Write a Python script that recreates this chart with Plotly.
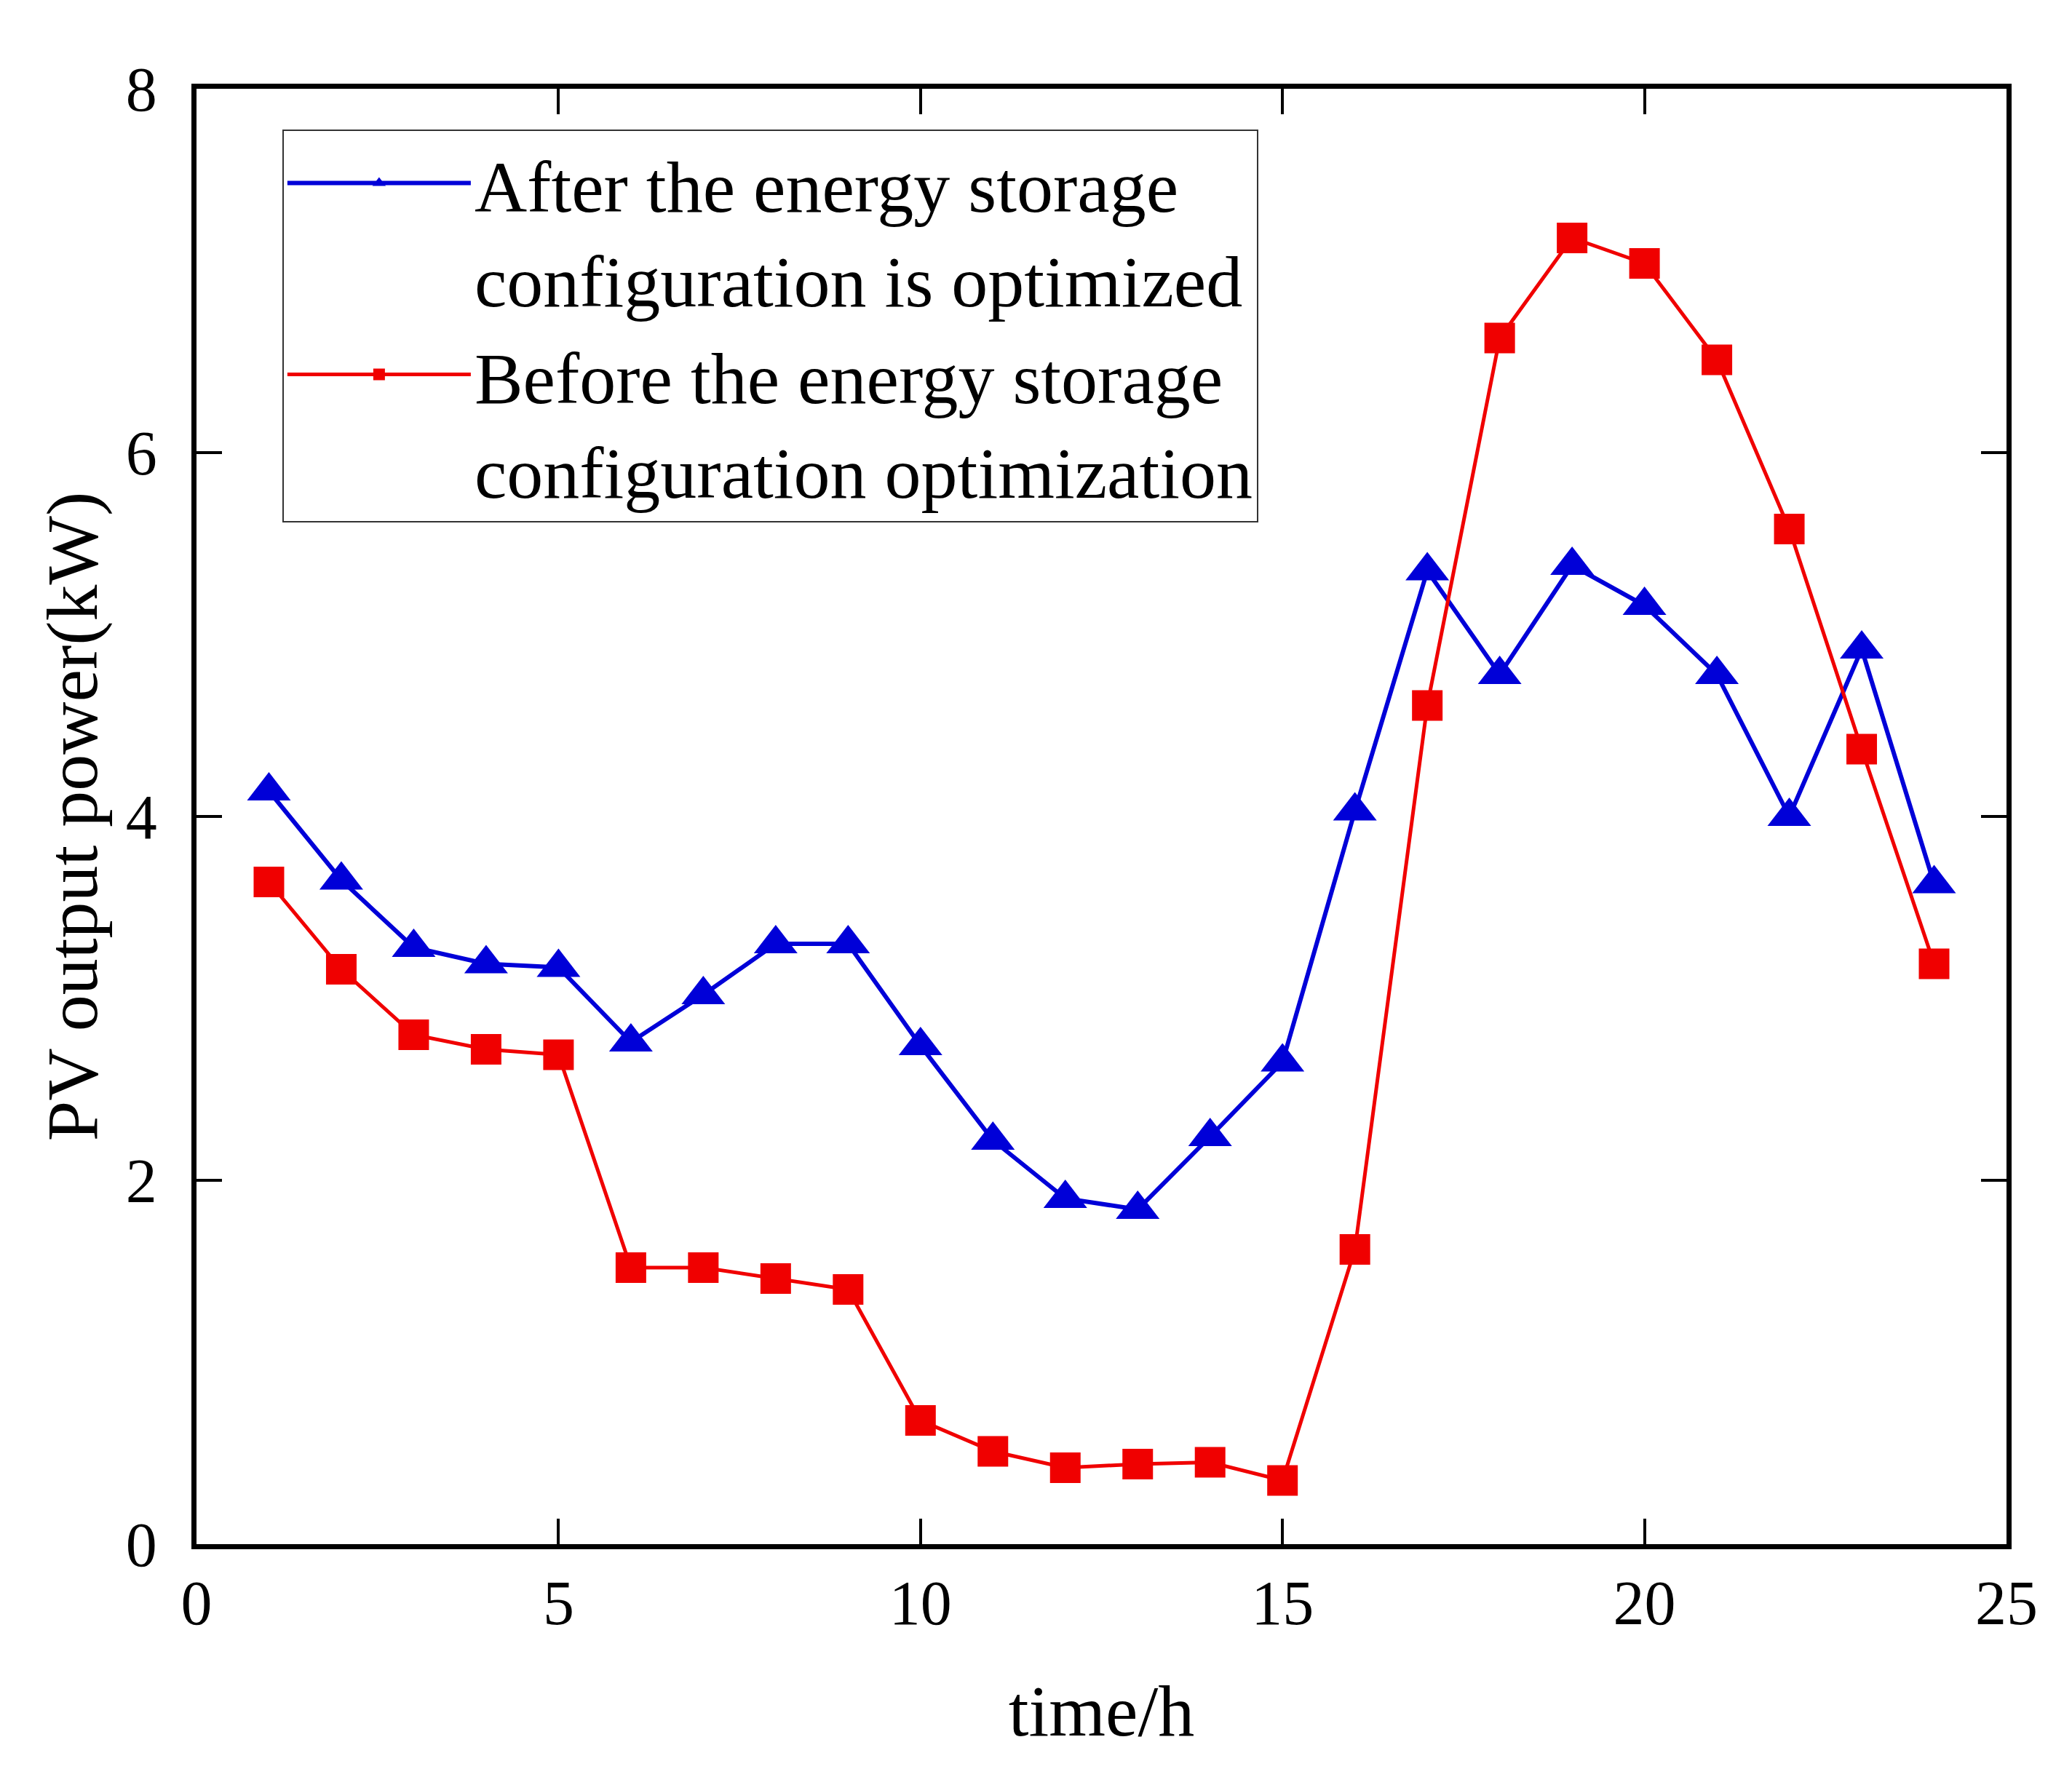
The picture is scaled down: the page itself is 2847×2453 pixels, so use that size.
import plotly.graph_objects as go

hours = list(range(1, 25))
after_opt = [4.14, 3.65, 3.28, 3.19, 3.17, 2.76, 3.02, 3.30, 3.30, 2.74, 2.22, 1.90,
             1.84, 2.24, 2.65, 4.03, 5.35, 4.78, 5.38, 5.16, 4.78, 4.00, 4.92, 3.63]
before_opt = [3.64, 3.16, 2.80, 2.72, 2.69, 1.52, 1.52, 1.46, 1.40, 0.68, 0.51, 0.42,
              0.44, 0.45, 0.35, 1.62, 4.61, 6.63, 7.18, 7.04, 6.51, 5.58, 4.37, 3.19]
x_ticks = [0, 5, 10, 15, 20, 25]
y_ticks = [0, 2, 4, 6, 8]

name_after = "After the energy storage<br>configuration is optimized"
name_before = "Before the energy storage<br>configuration optimization"

BLUE = "#0000D8"
RED = "#F00000"
FONT = "Liberation Serif"

fig = go.Figure()
fig.add_trace(go.Scatter(
    x=hours, y=after_opt, mode="lines+markers", name=name_after,
    line=dict(color=BLUE, width=6),
    marker=dict(symbol="triangle-up", size=52, color=BLUE),
))
fig.add_trace(go.Scatter(
    x=hours, y=before_opt, mode="lines+markers", name=name_before,
    line=dict(color=RED, width=5),
    marker=dict(symbol="square", size=42, color=RED),
))

axis_common = dict(
    showgrid=False, zeroline=False,
    showline=True, linecolor="black", linewidth=7, mirror="ticks",
    ticks="inside", ticklen=35, tickwidth=4, tickcolor="black",
    tickfont=dict(family=FONT, size=86, color="black"),
)

fig.update_layout(
    width=2847, height=2453,
    margin=dict(l=262, r=98, t=114, b=339),
    paper_bgcolor="white", plot_bgcolor="white",
    font=dict(family=FONT, color="black"),
    xaxis=dict(range=[0, 25], tickvals=x_ticks, ticklabelstandoff=0,
               title=dict(text="time/h", font=dict(family=FONT, size=100), standoff=67),
               **axis_common),
    yaxis=dict(range=[0, 8], tickvals=y_ticks, ticklabelstandoff=30,
               title=dict(text="PV output power(kW)", font=dict(family=FONT, size=100), standoff=8),
               **axis_common),
    legend=dict(
        x=0.0474, y=0.972, xanchor="left", yanchor="top",
        bordercolor="#333333", borderwidth=2, bgcolor="white",
        font=dict(family=FONT, size=100, color="black"),
        itemwidth=252, valign="top", tracegroupgap=0,
    ),
)

fig.write_html("out.html")
